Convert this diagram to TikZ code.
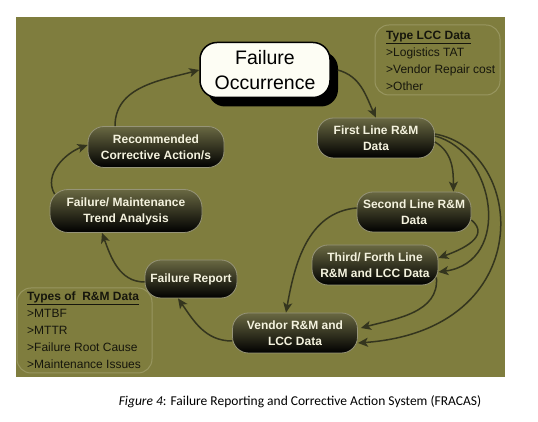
\documentclass[tikz,border=0pt]{standalone}
\usepackage{fontspec}
\setmainfont{Liberation Sans}
\newfontfamily\capfont{Carlito}
\usetikzlibrary{arrows.meta,shadows}
\definecolor{olive}{RGB}{127,125,62}
\definecolor{arrowc}{RGB}{52,53,30}
\definecolor{boxtop}{RGB}{105,104,66}
\definecolor{boxedge}{RGB}{150,148,120}
\definecolor{infoedge}{RGB}{152,150,96}
\definecolor{cream}{RGB}{244,242,222}
\definecolor{infotext}{RGB}{22,22,12}
\tikzset{
  darkbox/.style={draw=boxedge, line width=0.8pt, rounded corners=16pt,
    top color=boxtop, bottom color=black, text=cream, align=center,
    inner sep=0pt, font=\bfseries\fontsize{12}{16}\selectfont},
  infobox/.style={draw=infoedge, line width=1pt, rounded corners=14pt, inner sep=0pt},
  infotxt/.style={anchor=west, align=left, inner sep=0pt, text=infotext,
    font=\fontsize{12}{17}\selectfont},
  flow/.style={draw=arrowc, line width=1.5pt,
    -{Stealth[length=10pt,width=9pt,inset=2.5pt]}}
}
\begin{document}
\begin{tikzpicture}[x=1pt,y=1pt]
\useasboundingbox (0,0) rectangle (538,422);
% panel
\fill[olive] (16,45) rectangle (505,405);
% info boxes
\node[infobox, minimum width=125pt, minimum height=70pt] (lccbox) at (437.5,362) {};
\node[infotxt] (lcctxt) at (386,361.5) {\textbf{\underline{Type LCC Data}}\\>Logistics TAT\\>Vendor Repair cost\\>Other};
\node[infobox, minimum width=135pt, minimum height=85pt] (rmbox) at (84.5,91.5) {};
\node[infotxt] (rmtxt) at (27,91.5) {\textbf{\underline{Types of~ R\&M Data}}\\>MTBF\\>MTTR\\>Failure Root Cause\\>Maintenance Issues};
% main nodes
\node[draw=black, line width=1.5pt, fill={rgb,255:red,253;green,253;blue,244}, rounded corners=17pt,
  minimum width=130pt, minimum height=55pt, align=center, inner sep=0pt,
  font=\fontsize{19.5}{25}\selectfont,
  drop shadow={shadow xshift=8pt, shadow yshift=-9pt, fill=black, opacity=1}]
  (fo) at (265,352) {Failure\\Occurrence};
\node[darkbox, minimum width=117pt, minimum height=40pt] (fl) at (376,284) {First Line R\&M\\Data};
\node[darkbox, minimum width=114pt, minimum height=40pt] (sl) at (414,210) {Second Line R\&M\\Data};
\node[darkbox, minimum width=126pt, minimum height=40pt] (tl) at (375,157) {Third/ Forth Line\\R\&M and LCC Data};
\node[darkbox, minimum width=125pt, minimum height=40pt] (vd) at (295,89) {Vendor R\&M and\\LCC Data};
\node[darkbox, minimum width=92pt, minimum height=38pt] (fr) at (191,143) {Failure Report};
\node[darkbox, minimum width=152pt, minimum height=43pt, rounded corners=18pt] (ta) at (126,211) {Failure/ Maintenance\\Trend Analysis};
\node[darkbox, minimum width=136pt, minimum height=41pt] (rc) at (156,275) {Recommended\\Corrective Action/s};
% connectors
\draw[flow] ([xshift=-41pt]rc.north) to[out=90,in=195] (fo.west);
\draw[flow] ([xshift=7pt]fo.east) to[out=-15,in=115] (fl.north);
\draw[flow] ([yshift=-4pt]fl.east) to[out=-30,in=90] ([xshift=-18pt]sl.north east);
\draw[flow] ([yshift=-8pt]sl.east) to[out=-40,in=20,looseness=1.3] ([yshift=7pt]tl.east);
\draw[flow] ([yshift=2pt]fl.east) .. controls +(61,-16) and +(74,10) .. ([yshift=-7pt]tl.east);
\draw[flow] ([yshift=4pt]fl.east) .. controls +(91,-16) and +(182,13) .. ([yshift=-10pt]vd.east);
\draw[flow] ([xshift=-2pt,yshift=8pt]tl.south east) to[out=-85,in=15] ([xshift=3pt,yshift=5pt]vd.east);
\draw[flow] ([yshift=4pt]sl.west) to[out=185,in=80] ([xshift=-9pt]vd.north);
\draw[flow] ([yshift=-8pt]vd.west) to[out=180,in=-55] ([xshift=-13pt]fr.south);
\draw[flow] ([yshift=-3pt]fr.west) to[out=180,in=-70] ([xshift=-24pt]ta.south);
\draw[flow] ([xshift=5pt,yshift=-5pt]ta.north west) to[out=120,in=200] ([yshift=2pt]rc.west);
% caption
\node[font=\capfont\fontsize{13.5}{16}\selectfont, inner sep=0pt] (cap) at (300,20)
  {\textit{Figure 4}: Failure Reporting and Corrective Action System (FRACAS)};
\end{tikzpicture}
\end{document}
